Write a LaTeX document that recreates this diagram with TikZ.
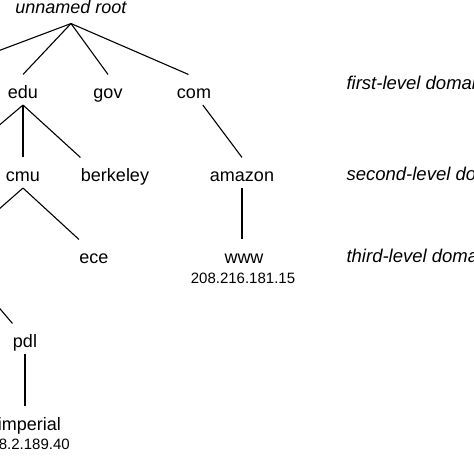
\documentclass[tikz,border=0pt]{standalone}
\usepackage{fontspec}
\setmainfont{Liberation Sans}

\begin{document}
\begin{tikzpicture}[x=1pt,y=-1pt,line width=1.1pt,
  every node/.style={font=\fontsize{18}{20}\selectfont,anchor=base,
    inner xsep=0pt,inner ysep=3.5pt,text height=19.5pt,text depth=3pt},
  addr/.style={font=\fontsize{15}{17}\selectfont},
  level/.style={font=\fontsize{18.5}{20}\selectfont\itshape,anchor=base west}]
\useasboundingbox (0,0) rectangle (474,474);
\clip (0,0) rectangle (474,474);

\node[text depth=6.5pt] (root) at (71,13) {\itshape unnamed root};
\node (edu) at (23,98) {edu};
\node (gov) at (108,98) {gov};
\node (com) at (194,98) {com};
\node (cmu) at (23,181) {cmu};
\node (berkeley) at (115,181) {berkeley};
\node (amazon) at (242,181) {amazon};
\node (ece) at (94,263) {ece};
\node (www) at (244,263) {www};
\node[addr] (wwwip) at (243,283) {208.216.181.15};
\node (pdl) at (25,347) {pdl};
\node (imperial) at (29.5,430) {imperial};
\node[addr] (imperialip) at (26,449) {128.2.189.40};

\node[level] (first) at (346,89) {first-level domain names};
\node[level] (second) at (346,180) {second-level domain names};
\node[level] (third) at (346,262) {third-level domain names};

\coordinate (mil) at (-10,54);
\coordinate (mit) at (-10,133);
\coordinate (cstop) at (-10,217);
\coordinate (csbot) at (-10,297);

\draw (root.south) -- (mil);
\draw (root.south) -- (edu.north);
\draw (root.south) -- (gov.north);
\draw (root.south) -- (com.110);
\draw (edu.south) -- (mit);
\draw (edu.south) -- (cmu.north);
\draw (edu.south) -- (berkeley.north west);
\draw (com.-60) -- (amazon.north);
\draw (cmu.south) -- (cstop);
\draw (cmu.south) -- (ece.north west);
\draw (amazon.south) -- (amazon.south |- www.north);
\draw (csbot) -- (pdl.north west);
\draw (pdl.south) -- (pdl.south |- imperial.north);
\end{tikzpicture}
\end{document}
